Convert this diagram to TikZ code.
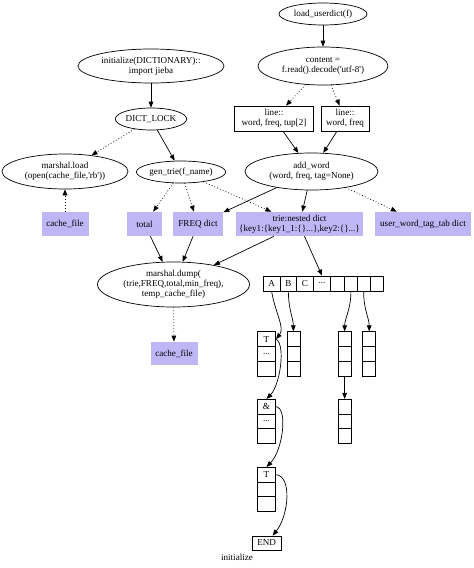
\documentclass[tikz,border=0pt]{standalone}
\usepackage{fontspec}
\setmainfont{Liberation Serif}
\usetikzlibrary{shapes.geometric,arrows.meta}
\definecolor{lav}{RGB}{190,182,245}
\begin{document}
\begin{tikzpicture}[x=1pt,y=-1pt,
  font=\fontsize{9.1}{10}\selectfont,
  line width=0.7pt,
  ell/.style={draw, ellipse, inner sep=0pt, align=center},
  rbox/.style={draw, rectangle, inner sep=0pt, align=center},
  fbox/.style={fill=lav, rectangle, inner sep=0pt, align=center},
  wcell/.style={draw, rectangle, inner sep=0pt, minimum width=18.4pt, minimum height=14.77pt},
  ncell/.style={draw, rectangle, inner sep=0pt, minimum width=13pt, minimum height=14.77pt},
  acell/.style={draw, rectangle, inner sep=0pt, minimum height=15pt},
  arr/.style={-{Triangle[length=6pt,width=4.6pt]}},
  dotline/.style={arr, dash pattern=on 0.8pt off 2.2pt},
]
\useasboundingbox (0,0) rectangle (474,568);

% top nodes
\node[ell, minimum width=88pt, minimum height=22pt] (load) at (323,14) {load\_userdict(f)};
\node[ell, minimum width=130pt, minimum height=38pt] (content) at (323,66) {content =\\f.read().decode(\textquotesingle utf-8\textquotesingle)};
\node[ell, minimum width=146pt, minimum height=34pt] (init) at (151,66) {initialize(DICTIONARY)::\\import jieba};
\node[ell, minimum width=71pt, minimum height=22pt] (lock) at (151,119) {DICT\_LOCK};
\node[rbox, minimum width=79pt, minimum height=25pt] (line1) at (274,118.5) {line::\\word, freq, tup[2]};
\node[rbox, minimum width=48pt, minimum height=25pt] (line2) at (345,118.5) {line::\\word, freq};
\node[ell, minimum width=126pt, minimum height=35pt] (mload) at (65,171.5) {marshal.load\\(open(cache\_file,\textquotesingle rb\textquotesingle))};
\node[ell, minimum width=83pt, minimum height=22pt] (gentrie) at (181,172) {gen\_trie(f\_name)};
\node[ell, minimum width=133pt, minimum height=37pt] (addword) at (311.5,171.5) {add\_word\\(word, freq, tag=None)};

% filled boxes
\node[fbox, minimum width=47pt, minimum height=24pt] (cache1) at (65,224) {cache\_file};
\node[fbox, minimum width=35pt, minimum height=24pt] (total) at (144.5,224) {total};
\node[fbox, minimum width=50pt, minimum height=24pt] (freq) at (198,224) {FREQ dict};
\node[fbox, minimum width=127pt, minimum height=24pt] (trie) at (299.5,224) {trie:nested dict\\\{key1:\{key1\_1:\{\}...\},key2:\{\}...\}};
\node[fbox, minimum width=96pt, minimum height=24pt] (uwtt) at (423,224) {user\_word\_tag\_tab dict};

\node[ell, minimum width=152pt, minimum height=45pt] (mdump) at (173.5,284.5) {marshal.dump(\\(trie,FREQ,total,min\_freq),\\temp\_cache\_file)};
\node[fbox, minimum width=47pt, minimum height=23pt] (cache2) at (174,353.5) {cache\_file};

% array
\node[acell, minimum width=16.7pt] (a1) at (271.65,283.5) {A};
\node[acell, minimum width=16.7pt] (a2) at (288.35,283.5) {B};
\node[acell, minimum width=16.6pt] (a3) at (305,283.5) {C};
\node[acell, minimum width=17.4pt] (a4) at (322,283.5) {...};
\node[acell, minimum width=13.8pt] (a5) at (337.6,283.5) {};
\node[acell, minimum width=12.8pt] (a6) at (350.9,283.5) {};
\node[acell, minimum width=12.7pt] (a7) at (363.65,283.5) {};
\node[acell, minimum width=13.3pt] (a8) at (376.65,283.5) {};

% columns
\node[wcell] (c1a) at (266.5,339.1) {T};
\node[wcell] (c1b) at (266.5,353.85) {...};
\node[wcell] (c1c) at (266.5,368.6) {};
\node[ncell] (c2a) at (293.35,339.1) {};
\node[ncell] (c2b) at (293.35,353.85) {};
\node[ncell] (c2c) at (293.35,368.6) {};
\node[ncell] (c3a) at (344.65,339.1) {};
\node[ncell] (c3b) at (344.65,353.85) {};
\node[ncell] (c3c) at (344.65,368.6) {};
\node[ncell] (c4a) at (369.2,339.1) {};
\node[ncell] (c4b) at (369.2,353.85) {};
\node[ncell] (c4c) at (369.2,368.6) {};
\node[ncell] (d3a) at (344.65,406.7) {};
\node[ncell] (d3b) at (344.65,421.45) {};
\node[ncell] (d3c) at (344.65,436.2) {};
\node[wcell] (c5a) at (266.5,406.7) {\&};
\node[wcell] (c5b) at (266.5,421.45) {...};
\node[wcell] (c5c) at (266.5,436.2) {};
\node[wcell] (c6a) at (266.5,474.7) {T};
\node[wcell] (c6b) at (266.5,489.45) {};
\node[wcell] (c6c) at (266.5,504.2) {};
\node[rbox, minimum width=28.7pt, minimum height=14pt] (endn) at (266.65,543) {END};
\node[inner sep=0pt] (lbl) at (237,557.5) {initialize};

% edges top
\draw[arr] (load) -- (content);
\draw[dotline] (content) -- (line1);
\draw[dotline] (content) -- (line2);
\draw[arr] (init) -- (lock);
\draw[dotline] (lock) -- (mload);
\draw[arr] (lock) -- (gentrie);
\draw[arr] (line1) -- (addword);
\draw[arr] (line2) -- (addword);
\draw[dotline] (cache1) -- (mload);
\draw[dotline] (gentrie) -- (total);
\draw[dotline] (gentrie) -- (freq);
\draw[dotline] (gentrie) -- (trie);
\draw[arr] (addword) -- (freq);
\draw[arr] (addword) -- (trie);
\draw[dotline] (addword) -- (uwtt);
\draw[arr] (total) -- (mdump);
\draw[arr] (freq) -- (mdump);
\draw[arr] (trie) -- (mdump);
\draw[dotline] (mdump) -- (cache2);
\draw[arr] ([xshift=5pt]trie.south) -- (a4.north);

% array edges
\draw[arr] (a1.south) .. controls (275,312) and (285,328) .. (c1a.east);
\draw[arr] (c1a.east) .. controls (286,345) and (280,385) .. (c5a.north);
\draw[arr] (c5a.east) .. controls (288,408) and (283,450) .. (c6a.north);
\draw[arr] (c6a.east) .. controls (292,476) and (289,515) .. ([xshift=6pt]endn.north);
\draw[arr] (a2.south) .. controls (288.5,310) and (293.3,318) .. (c2a.north);
\draw[arr] (a6.south) .. controls (350.9,310) and (344.7,318) .. (c3a.north);
\draw[arr] (a7.south) .. controls (363.6,310) and (369.2,318) .. (c4a.north);
\draw[arr] (c3c.south) -- (d3a.north);
\end{tikzpicture}
\end{document}
